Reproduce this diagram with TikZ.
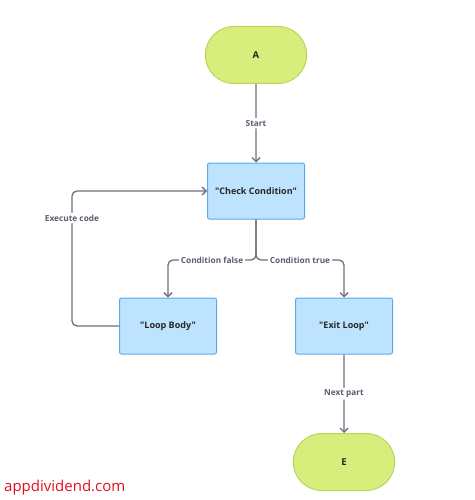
\documentclass[tikz,border=0pt]{standalone}
\usepackage{fontspec}
\setmainfont{Open Sans}[Ligatures=TeXOff]
\usetikzlibrary{arrows.meta,shapes.misc}
\definecolor{linec}{HTML}{6E6E82}
\definecolor{termfill}{HTML}{D8EE7C}
\definecolor{termdraw}{HTML}{BCD45A}
\definecolor{boxfill}{HTML}{BEE3FE}
\definecolor{boxdraw}{HTML}{5AA9E6}
\definecolor{lblc}{HTML}{5C5C70}
\definecolor{wm}{HTML}{E3101E}
\begin{document}
\begin{tikzpicture}[x=1pt,y=-1pt,
  term/.style={rounded rectangle, fill=termfill, draw=termdraw, line width=1pt, minimum width=108pt, minimum height=57pt, font=\bfseries\fontsize{9.5}{11}\selectfont, text=black!85},
  proc/.style={rectangle, rounded corners=2pt, fill=boxfill, draw=boxdraw, line width=1pt, minimum width=97pt, minimum height=56pt, font=\bfseries\fontsize{9}{11}\selectfont, text=black!85},
  conn/.style={draw=linec, line width=1.3pt, rounded corners=5pt, -{Straight Barb[length=4pt,width=8pt]}},
  lbl/.style={fill=white, inner sep=2pt, text=lblc, font=\bfseries\fontsize{8.3}{10}\selectfont}]
\useasboundingbox (0,0) rectangle (474,500);
\node[term] (A) at (256,55) {A};
\node[proc] (C) at (256,191) {"Check Condition"};
\node[proc] (L) at (168,326) {"Loop Body"};
\node[proc] (X) at (344,326) {"Exit Loop"};
\node[term] (E) at (344,462) {E};
\coordinate (split) at (256,260);
\coordinate (ex) at (72,326);
\coordinate (ey) at (72,191);
\draw[conn] (A) -- node[lbl] {Start} (C);
\draw[conn] (C.south) -- (split) -| node[lbl, pos=0.25] {Condition false} (L.north);
\draw[conn] (C.south) -- (split) -| node[lbl, pos=0.25] {Condition true} (X.north);
\draw[conn] (L.west) -- (ex) -- node[lbl, pos=0.8] {Execute code} (ey) -- (C.west);
\draw[conn] (X) -- node[lbl] {Next part} (E);
\node[anchor=west, text=wm, font=\fontsize{15}{17}\selectfont, inner sep=0pt] (wmk) at (4,488) {appdividend.com};
\end{tikzpicture}
\end{document}
